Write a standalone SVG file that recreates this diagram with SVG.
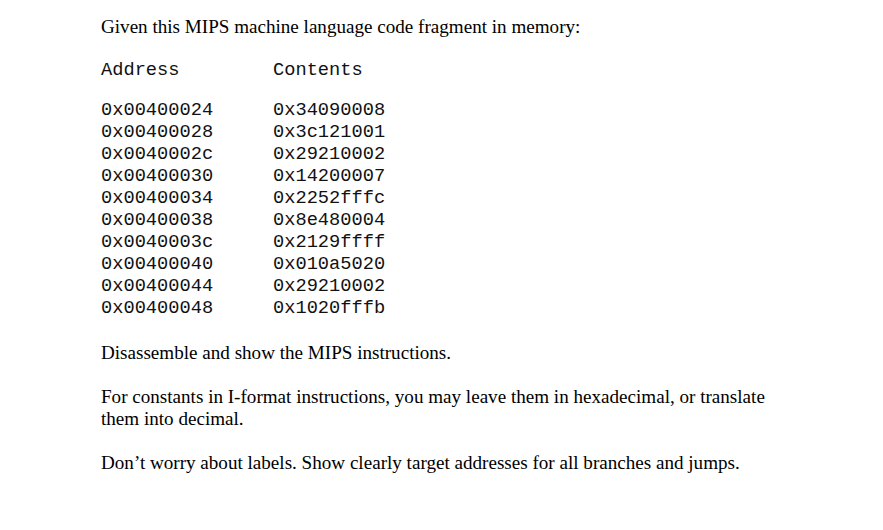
<svg xmlns="http://www.w3.org/2000/svg" width="883" height="530" viewBox="0 0 883 530">
<style>
.s{font-family:"Liberation Serif",serif;font-size:19.1px;fill:#000}
.m{font-family:"Liberation Mono",monospace;font-size:18.7px;fill:#111}
</style>
<rect width="883" height="530" fill="#fff"/>
<text class="s" x="101" y="33">Given this MIPS machine language code fragment in memory:</text>
<text class="m" x="101" y="75">Address</text>
<text class="m" x="273" y="75">Contents</text>
<g class="m">
<text x="101" y="115">0x00400024</text><text x="273" y="115">0x34090008</text>
<text x="101" y="137">0x00400028</text><text x="273" y="137">0x3c121001</text>
<text x="101" y="159">0x0040002c</text><text x="273" y="159">0x29210002</text>
<text x="101" y="181">0x00400030</text><text x="273" y="181">0x14200007</text>
<text x="101" y="203">0x00400034</text><text x="273" y="203">0x2252fffc</text>
<text x="101" y="225">0x00400038</text><text x="273" y="225">0x8e480004</text>
<text x="101" y="247">0x0040003c</text><text x="273" y="247">0x2129ffff</text>
<text x="101" y="269">0x00400040</text><text x="273" y="269">0x010a5020</text>
<text x="101" y="291">0x00400044</text><text x="273" y="291">0x29210002</text>
<text x="101" y="313">0x00400048</text><text x="273" y="313">0x1020fffb</text>
</g>
<text class="s" x="101" y="359">Disassemble and show the MIPS instructions.</text>
<text class="s" x="101" y="403">For constants in I-format instructions, you may leave them in hexadecimal, or translate</text>
<text class="s" x="101" y="425">them into decimal.</text>
<text class="s" x="101" y="469">Don’t worry about labels. Show clearly target addresses for all branches and jumps.</text>
</svg>
